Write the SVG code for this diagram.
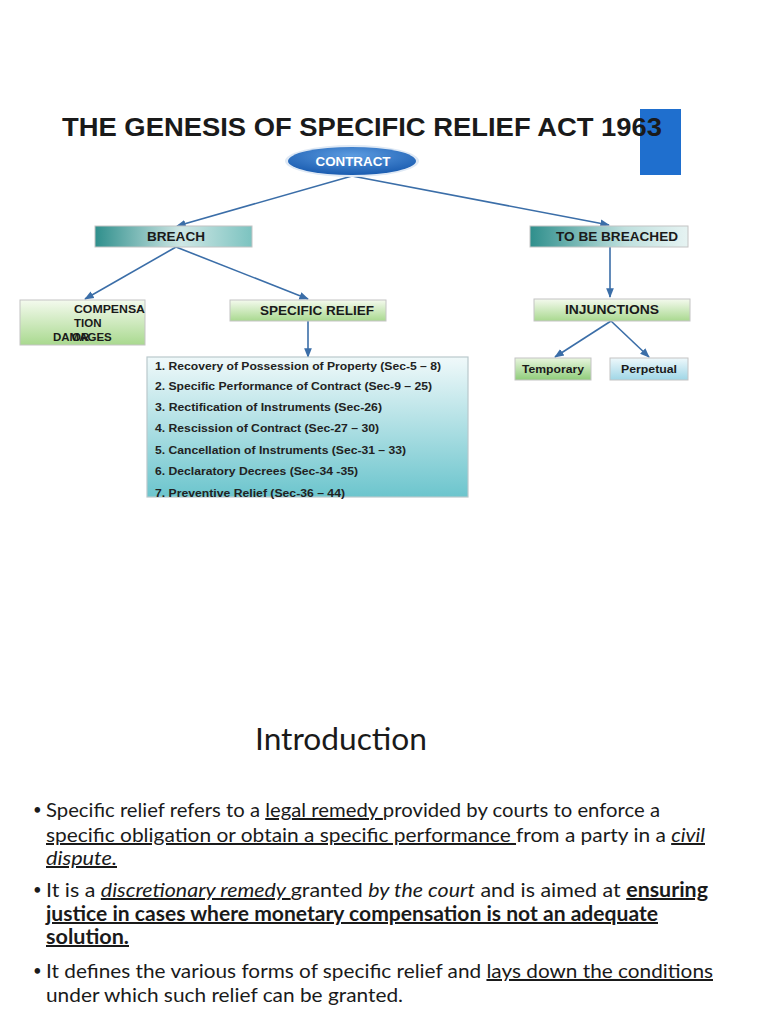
<svg xmlns="http://www.w3.org/2000/svg" width="768" height="1024" viewBox="0 0 768 1024">
<style>
.lbl{font-family:"Liberation Sans",Arial,sans-serif;font-weight:bold;fill:#1a1a1a;}
.item{font-family:"Liberation Sans",Arial,sans-serif;font-weight:bold;font-size:11px;fill:#222;}
.body{font-family:Lato,"Open Sans",sans-serif;font-size:20px;fill:#1a1a1a;}
.dot{font-family:Lato,"Open Sans",sans-serif;font-size:15px;fill:#1a1a1a;}
.u{text-decoration:underline;}
.i{font-style:italic;}
.b{font-weight:bold;}
.con{stroke:#3b6ea8;stroke-width:1.6;fill:none;marker-end:url(#arr);}
.box{stroke:#c4c4c4;stroke-width:1;}
</style>
<defs>
<marker id="arr" viewBox="0 0 10 10" refX="9" refY="5" markerWidth="6" markerHeight="6" orient="auto"><path d="M0,1 L10,5 L0,9 z" fill="#3b6ea8"/></marker>
<linearGradient id="teal" x1="0" y1="0" x2="1" y2="0"><stop offset="0" stop-color="#2f8f8c"/><stop offset="0.55" stop-color="#cfe7e5"/><stop offset="1" stop-color="#7cc3c0"/></linearGradient>
<linearGradient id="teal2" x1="0" y1="0" x2="1" y2="0"><stop offset="0" stop-color="#2f8f8c"/><stop offset="0.6" stop-color="#bfe0de"/><stop offset="1" stop-color="#e6f3f2"/></linearGradient>
<linearGradient id="green" x1="0" y1="0" x2="0" y2="1"><stop offset="0" stop-color="#f4faee"/><stop offset="1" stop-color="#a9d98f"/></linearGradient>
<linearGradient id="green2" x1="0" y1="0" x2="0" y2="1"><stop offset="0" stop-color="#e8f5de"/><stop offset="1" stop-color="#8fcd7a"/></linearGradient>
<linearGradient id="lblue" x1="0" y1="0" x2="0" y2="1"><stop offset="0" stop-color="#eef8fb"/><stop offset="1" stop-color="#9fd6e6"/></linearGradient>
<linearGradient id="list" x1="0" y1="0" x2="0" y2="1"><stop offset="0" stop-color="#f0f9fa"/><stop offset="1" stop-color="#6cc5cd"/></linearGradient>
<radialGradient id="oval" cx="0.5" cy="0.3" r="0.7"><stop offset="0" stop-color="#5b9be0"/><stop offset="1" stop-color="#1a5cb0"/></radialGradient>
</defs>
<rect width="768" height="1024" fill="#ffffff"/>

<rect id="bluebar" x="640" y="109" width="41" height="66" fill="#1f6fce"/>
<text id="title" x="62" y="136" class="lbl" font-size="26" textLength="600" lengthAdjust="spacingAndGlyphs">THE GENESIS OF SPECIFIC RELIEF ACT 1963</text>

<g id="connectors">
<line class="con" x1="352" y1="176" x2="177" y2="226"/>
<line class="con" x1="352" y1="176" x2="609" y2="225"/>
<line class="con" x1="176" y1="247" x2="85" y2="299"/>
<line class="con" x1="176" y1="247" x2="308" y2="299"/>
<line class="con" x1="308" y1="321" x2="308" y2="357"/>
<line class="con" x1="610" y1="247" x2="610" y2="297"/>
<line class="con" x1="611" y1="321" x2="555" y2="357"/>
<line class="con" x1="611" y1="321" x2="649" y2="357"/>
</g>

<g id="contract">
<ellipse cx="352" cy="161" rx="67" ry="16" fill="#dfe9f5"/>
<ellipse cx="352" cy="161" rx="64" ry="14" fill="url(#oval)"/>
<text x="353" y="165.5" class="lbl" font-size="12" style="fill:#fff" text-anchor="middle" textLength="75" lengthAdjust="spacingAndGlyphs">CONTRACT</text>
</g>

<g id="breach">
<rect class="box" x="95" y="226" width="157" height="21" fill="url(#teal)"/>
<text x="176" y="241" class="lbl" font-size="12.5" text-anchor="middle" textLength="58" lengthAdjust="spacingAndGlyphs">BREACH</text>
</g>

<g id="tobebreached">
<rect class="box" x="530" y="226" width="158" height="21" fill="url(#teal2)"/>
<text x="617" y="241" class="lbl" font-size="12.5" text-anchor="middle" textLength="122" lengthAdjust="spacingAndGlyphs">TO BE BREACHED</text>
</g>

<g id="compensation">
<rect class="box" x="20" y="300" width="125" height="45" fill="url(#green)"/>
<text x="74" y="313" class="lbl" font-size="11.5" textLength="71" lengthAdjust="spacingAndGlyphs">COMPENSA</text>
<text x="74" y="327" class="lbl" font-size="11.5">TION</text>
<text x="53" y="341" class="lbl" font-size="11.5">DAMAGES</text>
<text x="72" y="341" class="lbl" font-size="11.5">OR</text>
</g>

<g id="specificrelief">
<rect class="box" x="230" y="300" width="156" height="21" fill="url(#green)"/>
<text x="317" y="315" class="lbl" font-size="12.5" text-anchor="middle" textLength="114" lengthAdjust="spacingAndGlyphs">SPECIFIC RELIEF</text>
</g>

<g id="injunctions">
<rect class="box" x="534" y="299" width="156" height="22" fill="url(#green)"/>
<text x="612" y="314" class="lbl" font-size="12.5" text-anchor="middle" textLength="94" lengthAdjust="spacingAndGlyphs">INJUNCTIONS</text>
</g>

<g id="temporary">
<rect class="box" x="515" y="358" width="76" height="22" fill="url(#green2)"/>
<text x="553" y="373" class="lbl" font-size="11" text-anchor="middle" textLength="62" lengthAdjust="spacingAndGlyphs">Temporary</text>
</g>

<g id="perpetual">
<rect class="box" x="610" y="358" width="78" height="22" fill="url(#lblue)"/>
<text x="649" y="373" class="lbl" font-size="11" text-anchor="middle" textLength="56" lengthAdjust="spacingAndGlyphs">Perpetual</text>
</g>

<g id="list">
<rect x="147" y="357" width="321" height="140" fill="url(#list)" stroke="#b9c9cc" stroke-width="1.2"/>
<text x="155" y="370" class="item" textLength="286" lengthAdjust="spacingAndGlyphs">1. Recovery of Possession of Property (Sec-5 – 8)</text>
<text x="155" y="390" class="item" textLength="277" lengthAdjust="spacingAndGlyphs">2. Specific Performance of Contract (Sec-9 – 25)</text>
<text x="155" y="411" class="item" textLength="227" lengthAdjust="spacingAndGlyphs">3. Rectification of Instruments (Sec-26)</text>
<text x="155" y="432" class="item" textLength="224" lengthAdjust="spacingAndGlyphs">4. Rescission of Contract (Sec-27 – 30)</text>
<text x="155" y="454" class="item" textLength="251" lengthAdjust="spacingAndGlyphs">5. Cancellation of Instruments (Sec-31 – 33)</text>
<text x="155" y="475" class="item" textLength="203" lengthAdjust="spacingAndGlyphs">6. Declaratory Decrees (Sec-34 -35)</text>
<text x="155" y="497" class="item" textLength="190" lengthAdjust="spacingAndGlyphs">7. Preventive Relief (Sec-36 – 44)</text>
</g>

<text id="intro" x="341" y="750" text-anchor="middle" font-family="Lato,'Open Sans',sans-serif" font-size="31" fill="#1a1a1a" textLength="172" lengthAdjust="spacingAndGlyphs">Introduction</text>

<g id="bullets">
<text x="33" y="815" class="dot">•</text>
<text x="46" y="817" class="body" textLength="614" lengthAdjust="spacingAndGlyphs">Specific relief refers to a <tspan class="u">legal remedy </tspan>provided by courts to enforce a</text>
<text x="46" y="842" class="body" textLength="659" lengthAdjust="spacingAndGlyphs"><tspan class="u">specific obligation or obtain a specific performance </tspan>from a party in a <tspan class="u i">civil</tspan></text>
<text x="46" y="865" class="body" textLength="71" lengthAdjust="spacingAndGlyphs"><tspan class="u i">dispute.</tspan></text>

<text x="33" y="895" class="dot">•</text>
<text x="46" y="897" class="body" textLength="662" lengthAdjust="spacingAndGlyphs">It is a <tspan class="u i">discretionary remedy </tspan>granted <tspan class="i">by the court</tspan> and is aimed at <tspan class="u b">ensuring</tspan></text>
<text x="46" y="921" class="body" textLength="612" lengthAdjust="spacingAndGlyphs"><tspan class="u b">justice in cases where monetary compensation is not an adequate</tspan></text>
<text x="46" y="944" class="body" textLength="83" lengthAdjust="spacingAndGlyphs"><tspan class="u b">solution.</tspan></text>

<text x="33" y="976" class="dot">•</text>
<text x="46" y="978" class="body" textLength="667" lengthAdjust="spacingAndGlyphs">It defines the various forms of specific relief and <tspan class="u">lays down the conditions</tspan></text>
<text x="46" y="1002" class="body" textLength="357" lengthAdjust="spacingAndGlyphs">under which such relief can be granted.</text>
</g>
</svg>
